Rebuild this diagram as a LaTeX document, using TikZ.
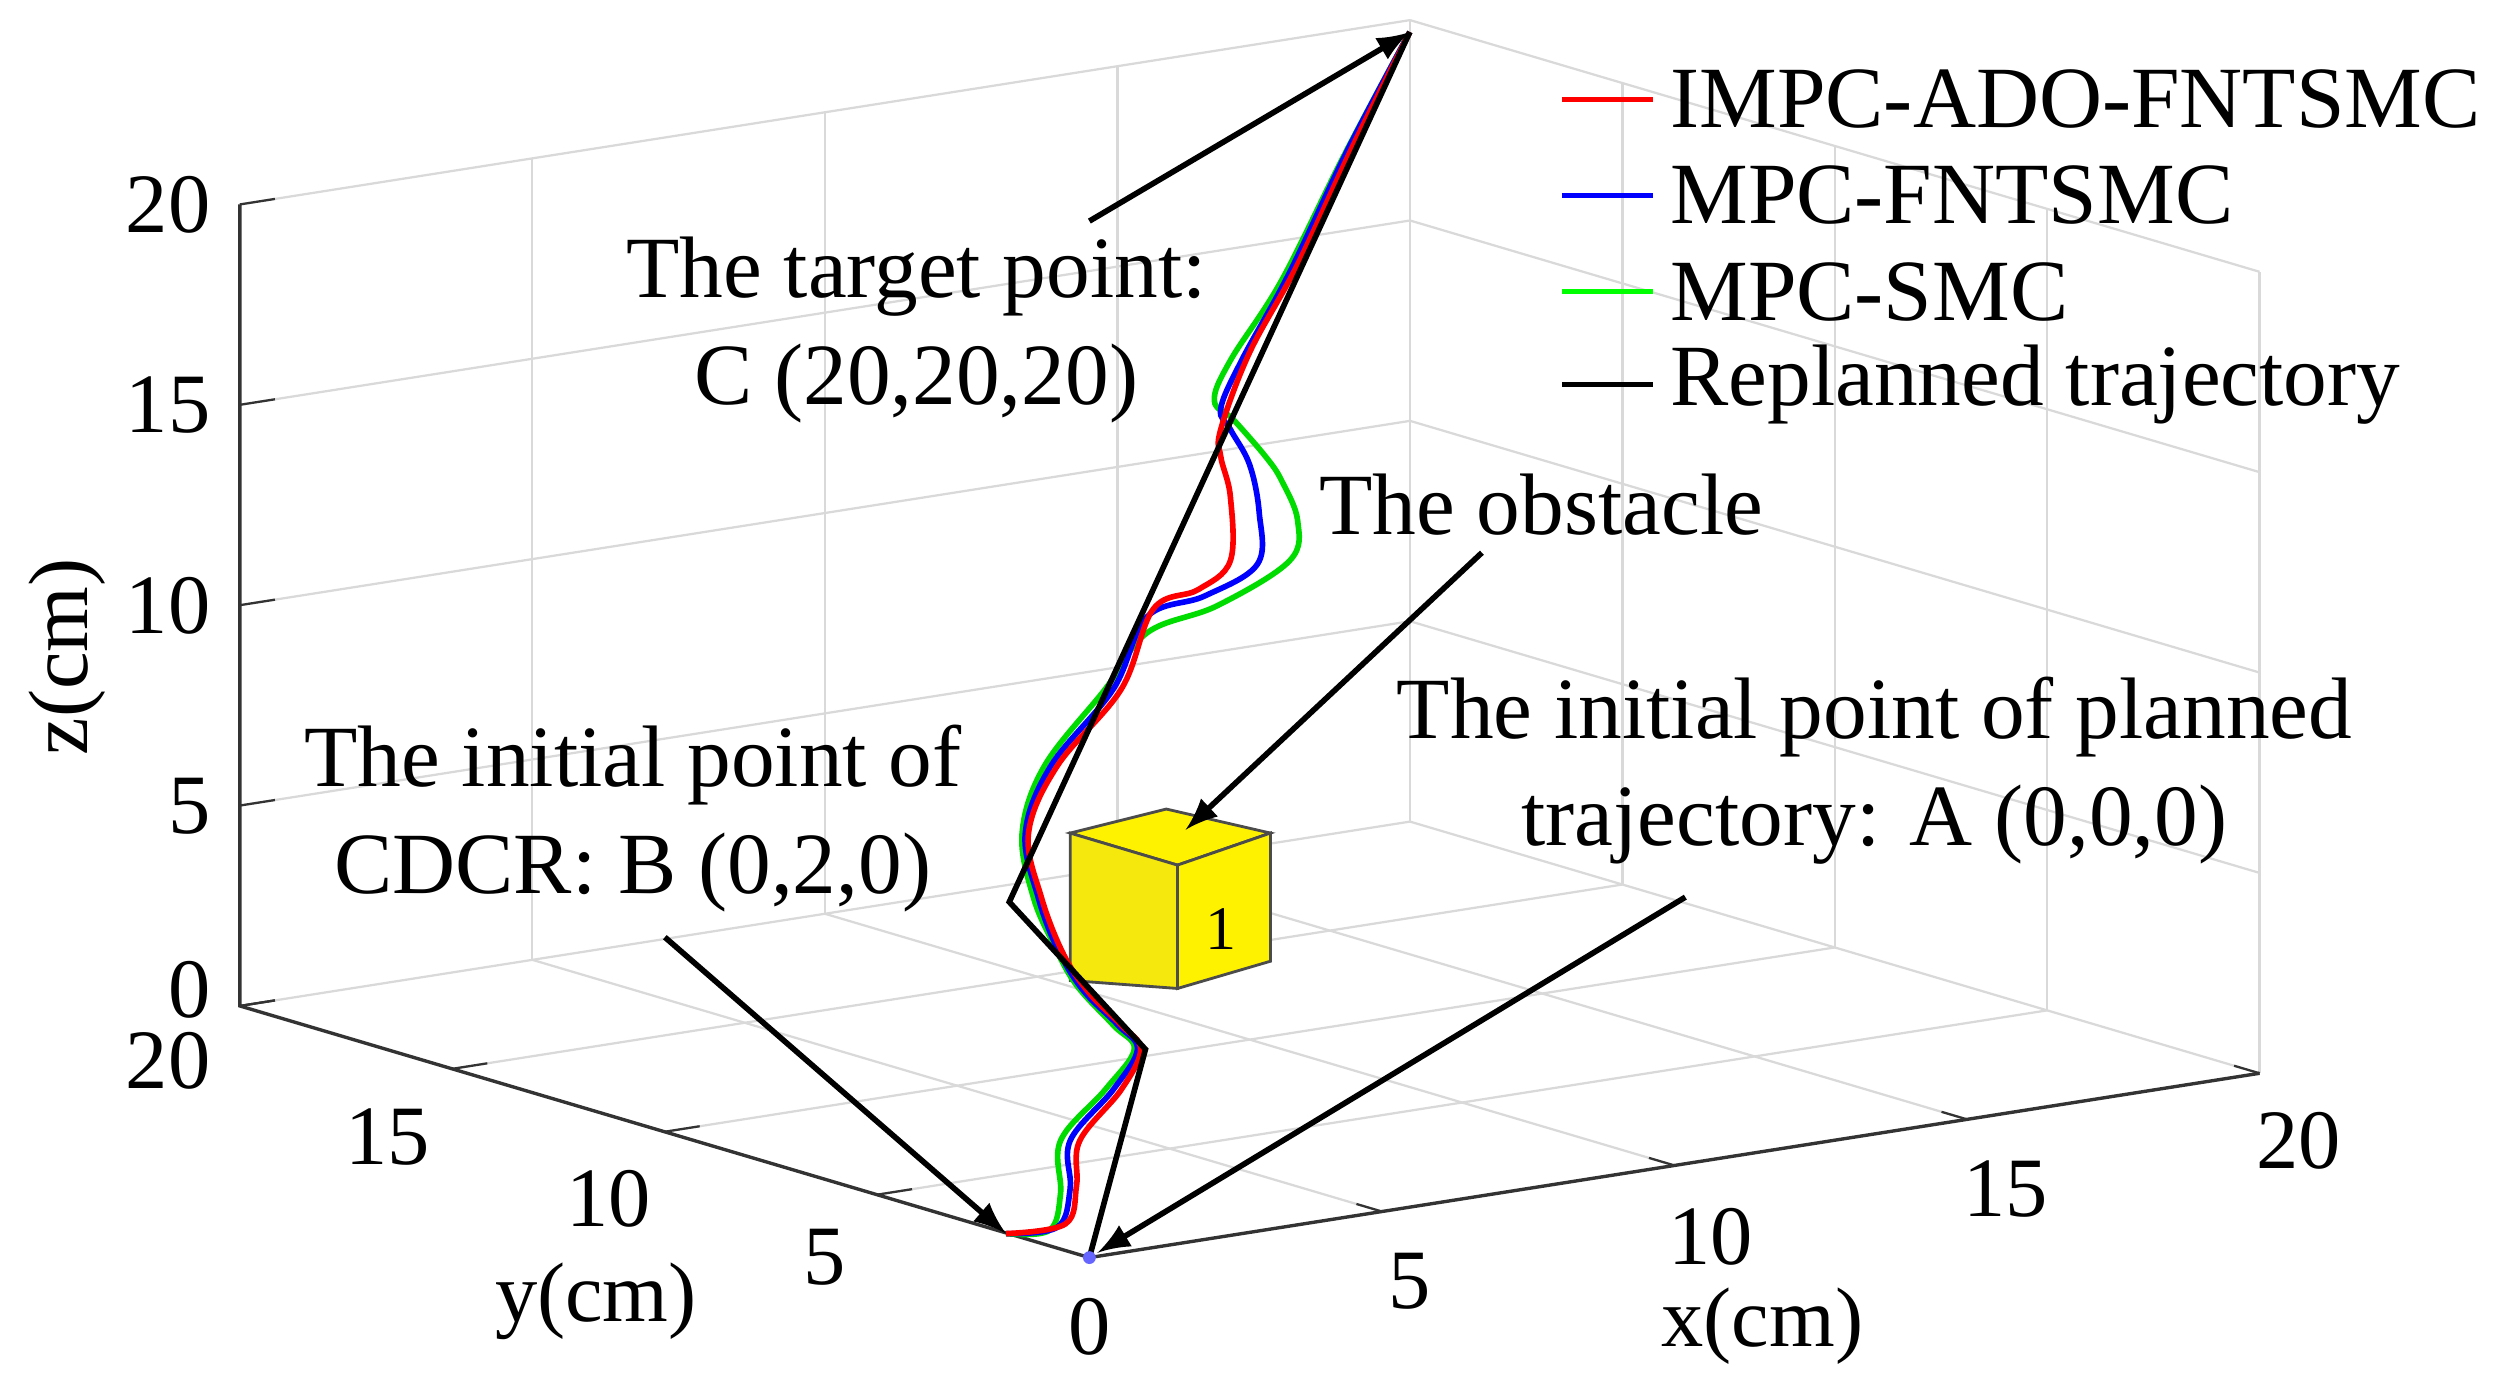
\documentclass[tikz,border=0pt]{standalone}
\usepackage{fontspec}
\setmainfont{Liberation Serif}
\begin{document}
\begin{tikzpicture}[x=0.01cm,y=-0.01cm,
  lbl/.style={font=\fontsize{15}{17}\selectfont,inner sep=0pt},
  txt/.style={font=\fontsize{15.5}{19}\selectfont,inner sep=0pt,align=center},
  grid/.style={gray!30,line width=0.4pt},
  ann/.style={-latex,line width=1pt},
  traj/.style={line width=1pt}]
\useasboundingbox (0,0) rectangle (1568,866);
\begin{scope}[shift={(680,785)},x={(0.365cm,0.0575cm)},y={(-0.265cm,0.0785cm)},z={(0cm,0.25cm)}]
 \foreach \v in {5,10,15,20}{
   \draw[grid] (\v,0,0)--(\v,20,0);
   \draw[grid] (0,\v,0)--(20,\v,0);
   \draw[grid] (\v,20,0)--(\v,20,20);
   \draw[grid] (0,20,\v)--(20,20,\v);
   \draw[grid] (20,\v-5,0)--(20,\v-5,20);
   \draw[grid] (20,0,\v)--(20,20,\v);}
 \draw[grid] (20,20,0)--(20,20,20);
 \draw[black!80,line width=0.6pt] (20,0,0)--(0,0,0)--(0,20,0)--(0,20,20);
 \foreach \v in {0,5,10,15,20}{
   \draw[black!80] (0,20,\v)--(0.6,20,\v);
   \draw[black!80] (\v,0,0)--(\v,0.6,0);
   \draw[black!80] (0,\v,0)--(0.6,\v,0);}
\end{scope}
% tick labels
\foreach \v/\yy in {0/618,5/503,10/378,15/253,20/128}
  \node[lbl,anchor=east] (z\v) at (132,\yy) {\v};
\node[lbl] (y20) at (105,662) {20};
\node[lbl] (y15) at (242,710) {15};
\node[lbl] (y10) at (380,748) {10};
\node[lbl] (y5) at (515,785) {5};
\node[lbl] (y0) at (680,828) {0};
\node[lbl] (x5) at (880,800) {5};
\node[lbl] (x10) at (1068,772) {10};
\node[lbl] (x15) at (1252,742) {15};
\node[lbl] (x20) at (1435,712) {20};
\node[lbl,rotate=90] (zl) at (42,410) {z(cm)};
\node[lbl] (yl) at (372,812) {y(cm)};
\node[lbl] (xl) at (1100,828) {x(cm)};
% obstacle
\fill[yellow,draw=black!70,line width=0.5pt] (668,520)--(728,505)--(793,520)--(735,540)--cycle;
\fill[yellow!95!black,draw=black!70,line width=0.5pt] (668,520)--(735,540)--(735,617)--(668,612)--cycle;
\fill[yellow,draw=black!70,line width=0.5pt] (735,540)--(793,520)--(793,600)--(735,617)--cycle;
\node[font=\fontsize{11}{13}\selectfont,inner sep=0pt] (one) at (762,580) {1};
% trajectories
\draw[traj,green!80!black!70!green] plot[smooth,tension=0.6] coordinates {(628,770)(655,768)(662,745)(662,712)(690,680)(708,655)(695,640)(672,615)(658,590)(645,560)(638,520)(652,478)(690,430)(716,395)(760,378)(805,350)(810,325)(800,300)(790,285)(770,262)(758,250)(768,225)(800,175)(840,95)(880,20)};
\draw[traj,blue] plot[smooth,tension=0.6] coordinates {(628,770)(660,766)(668,742)(668,712)(695,680)(710,655)(698,640)(676,618)(660,592)(648,560)(640,520)(656,478)(695,430)(716,385)(752,372)(785,352)(786,320)(780,290)(768,268)(762,255)(775,225)(805,170)(842,92)(880,20)};
\draw[traj,red] plot[smooth,tension=0.6] coordinates {(628,770)(665,764)(672,740)(674,712)(700,680)(712,655)(700,640)(680,620)(664,596)(650,560)(642,520)(660,478)(700,430)(720,380)(748,368)(768,350)(768,310)(762,285)(762,268)(780,220)(810,165)(845,90)(880,20)};
\draw[traj,black] (880,20)--(630,563)--(715,655)--(680,785);
\fill[blue!60] (680,785) circle (4);
% legend
\foreach \c/\t/\yy in {red/IMPC-ADO-FNTSMC/62,blue/MPC-FNTSMC/122,green/MPC-SMC/182,black/Replanned trajectory/240}{
  \draw[traj,\c] (975,\yy)--(1032,\yy);
  \node[txt,anchor=west] (leg\yy) at (1042,\yy) {\t};}
% annotations
\node[txt] (tgt) at (572,206) {The target point:\\C (20,20,20)};
\coordinate (C) at (880,20);
\draw[ann] (680,138)--(C);
\node[txt] (obs) at (962,315) {The obstacle};
\coordinate (obspt) at (740,518);
\draw[ann] (925,345)--(obspt);
\node[txt] (ia) at (1170,481) {The initial point of planned\\trajectory: A (0,0,0)};
\coordinate (A) at (685,782);
\draw[ann] (1052,560)--(A);
\node[txt] (ib) at (395,511) {The initial point of\\CDCR: B (0,2,0)};
\coordinate (B) at (628,770);
\draw[ann] (415,585)--(B);
\end{tikzpicture}
\end{document}
